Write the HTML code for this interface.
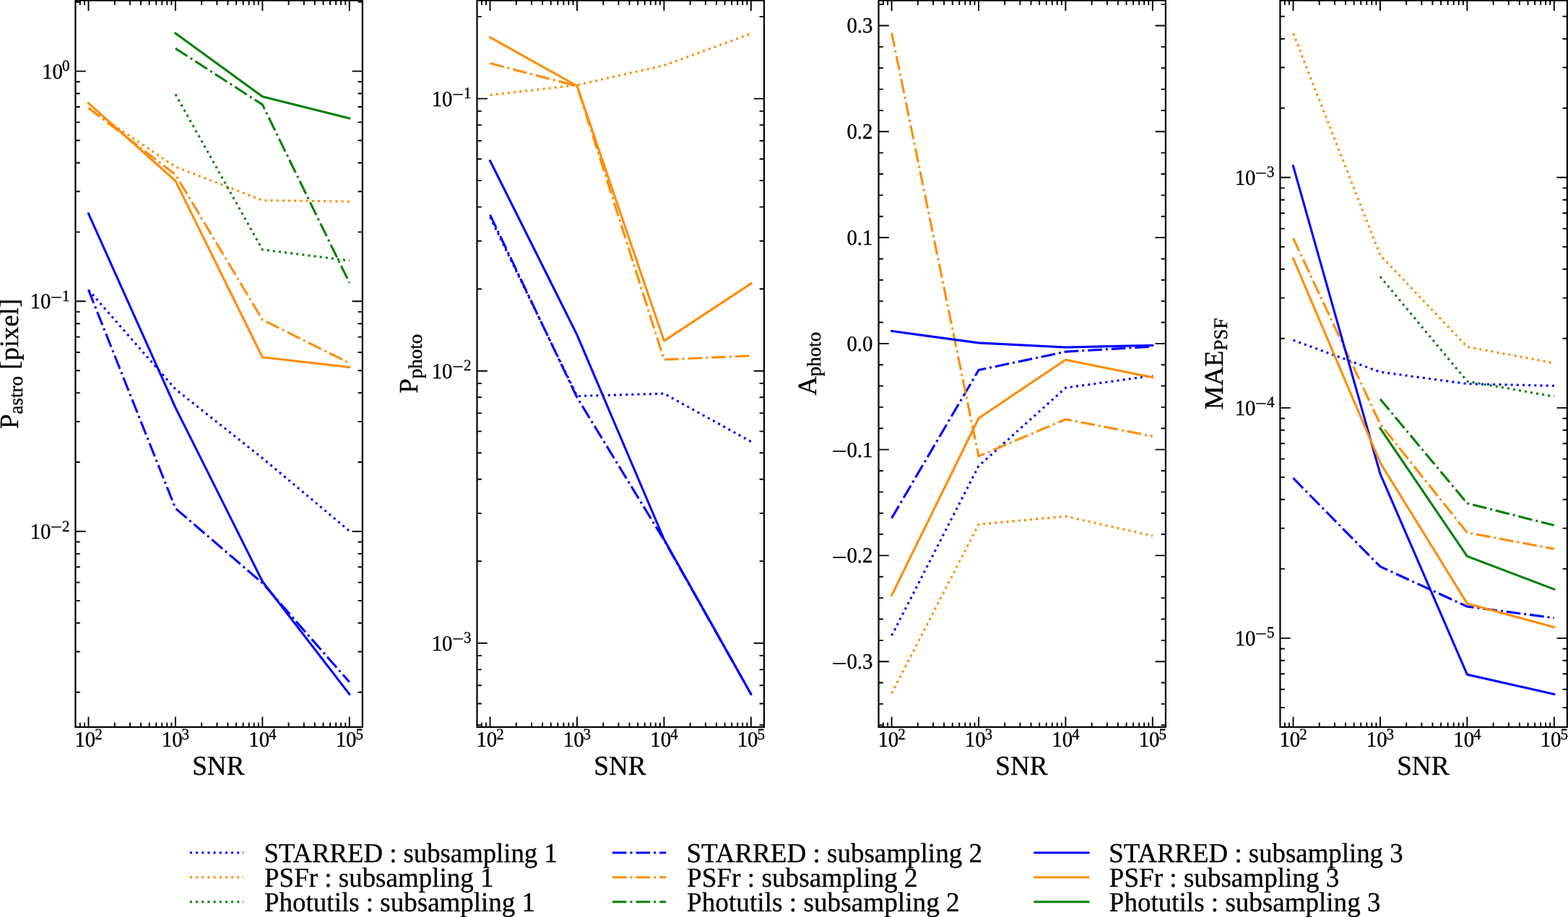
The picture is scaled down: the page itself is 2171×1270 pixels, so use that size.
<!DOCTYPE html>
<html><head><meta charset="utf-8"><title>SNR comparison</title>
<style>html,body{margin:0;padding:0;background:#fff;}svg{display:block;}text{font-family:'Liberation Serif', 'Times New Roman', serif;fill:#000;text-rendering:geometricPrecision;stroke:#000;stroke-width:0.35px;stroke-linejoin:round;}</style>
</head><body>
<svg width="2171" height="1270" viewBox="0 0 2171 1270">
<rect width="2171" height="1270" fill="#fff"/>
<clipPath id="c0"><rect x="104.45" y="0.6" width="397.4" height="1006.35"/></clipPath>
<g clip-path="url(#c0)">
<path d="M122.51,401.5 L242.94,539 L363.36,634.5 L483.79,735.4" stroke="#0000ff" stroke-width="3.08" stroke-dasharray="3.08,5.08" stroke-linecap="butt" stroke-linejoin="round" fill="none"/>
<path d="M122.51,149.8 L242.94,231 L363.36,277.5 L483.79,279.1" stroke="#ff8c00" stroke-width="3.08" stroke-dasharray="3.08,5.08" stroke-linecap="butt" stroke-linejoin="round" fill="none"/>
<path d="M242.94,130.6 L363.36,345.7 L483.79,361" stroke="#008000" stroke-width="3.08" stroke-dasharray="3.08,5.08" stroke-linecap="butt" stroke-linejoin="round" fill="none"/>
<path d="M122.51,401.5 L242.94,704 L363.36,807.5 L483.79,944.6" stroke="#0000ff" stroke-width="3.08" stroke-dasharray="19.71,4.93,3.08,4.93" stroke-linecap="butt" stroke-linejoin="round" fill="none"/>
<path d="M122.51,149.6 L242.94,241.8 L363.36,442.9 L483.79,502.8" stroke="#ff8c00" stroke-width="3.08" stroke-dasharray="19.71,4.93,3.08,4.93" stroke-linecap="butt" stroke-linejoin="round" fill="none"/>
<path d="M242.94,67.1 L363.36,144.9 L483.79,391.7" stroke="#008000" stroke-width="3.08" stroke-dasharray="19.71,4.93,3.08,4.93" stroke-linecap="butt" stroke-linejoin="round" fill="none"/>
<path d="M122.51,295.9 L242.94,564.5 L363.36,805.2 L483.79,961.4" stroke="#0000ff" stroke-width="3.08" stroke-linecap="square" stroke-linejoin="round" fill="none"/>
<path d="M122.51,143 L242.94,250.5 L363.36,494.8 L483.79,508.5" stroke="#ff8c00" stroke-width="3.08" stroke-linecap="square" stroke-linejoin="round" fill="none"/>
<path d="M242.94,46.1 L363.36,133.7 L483.79,163.8" stroke="#008000" stroke-width="3.08" stroke-linecap="square" stroke-linejoin="round" fill="none"/>
</g>
<path d="M110.84,1006.95v-6.3M110.84,0.6v6.3M117,1006.95v-6.3M117,0.6v6.3M122.51,1006.95v-14.3M122.51,0.6v14.3M158.76,1006.95v-6.3M158.76,0.6v6.3M179.97,1006.95v-6.3M179.97,0.6v6.3M195.02,1006.95v-6.3M195.02,0.6v6.3M206.69,1006.95v-6.3M206.69,0.6v6.3M216.22,1006.95v-6.3M216.22,0.6v6.3M224.28,1006.95v-6.3M224.28,0.6v6.3M231.27,1006.95v-6.3M231.27,0.6v6.3M237.43,1006.95v-6.3M237.43,0.6v6.3M242.94,1006.95v-14.3M242.94,0.6v14.3M279.19,1006.95v-6.3M279.19,0.6v6.3M300.39,1006.95v-6.3M300.39,0.6v6.3M315.44,1006.95v-6.3M315.44,0.6v6.3M327.11,1006.95v-6.3M327.11,0.6v6.3M336.65,1006.95v-6.3M336.65,0.6v6.3M344.71,1006.95v-6.3M344.71,0.6v6.3M351.69,1006.95v-6.3M351.69,0.6v6.3M357.85,1006.95v-6.3M357.85,0.6v6.3M363.36,1006.95v-14.3M363.36,0.6v14.3M399.61,1006.95v-6.3M399.61,0.6v6.3M420.82,1006.95v-6.3M420.82,0.6v6.3M435.86,1006.95v-6.3M435.86,0.6v6.3M447.54,1006.95v-6.3M447.54,0.6v6.3M457.07,1006.95v-6.3M457.07,0.6v6.3M465.13,1006.95v-6.3M465.13,0.6v6.3M472.12,1006.95v-6.3M472.12,0.6v6.3M478.28,1006.95v-6.3M478.28,0.6v6.3M483.79,1006.95v-14.3M483.79,0.6v14.3M104.45,958.68h6.3M501.85,958.68h-6.3M104.45,902.57h6.3M501.85,902.57h-6.3M104.45,862.75h6.3M501.85,862.75h-6.3M104.45,831.87h6.3M501.85,831.87h-6.3M104.45,806.64h6.3M501.85,806.64h-6.3M104.45,785.31h6.3M501.85,785.31h-6.3M104.45,766.83h6.3M501.85,766.83h-6.3M104.45,750.53h6.3M501.85,750.53h-6.3M104.45,735.95h14.3M501.85,735.95h-14.3M104.45,640.03h6.3M501.85,640.03h-6.3M104.45,583.92h6.3M501.85,583.92h-6.3M104.45,544.1h6.3M501.85,544.1h-6.3M104.45,513.22h6.3M501.85,513.22h-6.3M104.45,487.99h6.3M501.85,487.99h-6.3M104.45,466.66h6.3M501.85,466.66h-6.3M104.45,448.18h6.3M501.85,448.18h-6.3M104.45,431.88h6.3M501.85,431.88h-6.3M104.45,417.3h14.3M501.85,417.3h-14.3M104.45,321.38h6.3M501.85,321.38h-6.3M104.45,265.27h6.3M501.85,265.27h-6.3M104.45,225.45h6.3M501.85,225.45h-6.3M104.45,194.57h6.3M501.85,194.57h-6.3M104.45,169.34h6.3M501.85,169.34h-6.3M104.45,148.01h6.3M501.85,148.01h-6.3M104.45,129.53h6.3M501.85,129.53h-6.3M104.45,113.23h6.3M501.85,113.23h-6.3M104.45,98.65h14.3M501.85,98.65h-14.3M104.45,2.73h6.3M501.85,2.73h-6.3" stroke="#000" stroke-width="1.9" fill="none"/>
<rect x="104.45" y="0.6" width="397.4" height="1006.35" stroke="#000" stroke-width="2.2" fill="none" stroke-linejoin="miter"/>
<text transform="translate(103.39,1033.9) scale(0.955,1)" font-size="30.2">10</text>
<text transform="translate(131.13,1023.55) scale(0.955,1)" font-size="22.0">2</text>
<text transform="translate(223.81,1033.9) scale(0.955,1)" font-size="30.2">10</text>
<text transform="translate(251.56,1023.55) scale(0.955,1)" font-size="22.0">3</text>
<text transform="translate(344.24,1033.9) scale(0.955,1)" font-size="30.2">10</text>
<text transform="translate(371.98,1023.55) scale(0.955,1)" font-size="22.0">4</text>
<text transform="translate(464.66,1033.9) scale(0.955,1)" font-size="30.2">10</text>
<text transform="translate(492.4,1023.55) scale(0.955,1)" font-size="22.0">5</text>
<text transform="translate(41.65,745.85) scale(0.955,1)" font-size="30.2">10</text>
<text transform="translate(70.09,737.3) scale(1.280,1)" font-size="22.0">−</text>
<text transform="translate(85.9,735.5) scale(0.955,1)" font-size="22.0">2</text>
<text transform="translate(41.65,427.2) scale(0.955,1)" font-size="30.2">10</text>
<text transform="translate(70.09,418.65) scale(1.280,1)" font-size="22.0">−</text>
<text transform="translate(85.9,416.85) scale(0.955,1)" font-size="22.0">1</text>
<text transform="translate(58.15,108.55) scale(0.955,1)" font-size="30.2">10</text>
<text transform="translate(85.9,98.2) scale(0.955,1)" font-size="22.0">0</text>
<clipPath id="c1"><rect x="660.5" y="0.6" width="397.4" height="1006.35"/></clipPath>
<g clip-path="url(#c1)">
<path d="M678.56,300.8 L798.99,548.6 L919.41,545.1 L1039.84,611.6" stroke="#0000ff" stroke-width="3.08" stroke-dasharray="3.08,5.08" stroke-linecap="butt" stroke-linejoin="round" fill="none"/>
<path d="M678.56,131.6 L798.99,117.8 L919.41,90.6 L1039.84,46.6" stroke="#ff8c00" stroke-width="3.08" stroke-dasharray="3.08,5.08" stroke-linecap="butt" stroke-linejoin="round" fill="none"/>
<path d="M678.56,297.5 L798.99,550.5 L919.41,748 L1039.84,961.4" stroke="#0000ff" stroke-width="3.08" stroke-dasharray="19.71,4.93,3.08,4.93" stroke-linecap="butt" stroke-linejoin="round" fill="none"/>
<path d="M678.56,87.6 L798.99,119.3 L919.41,498 L1039.84,492.7" stroke="#ff8c00" stroke-width="3.08" stroke-dasharray="19.71,4.93,3.08,4.93" stroke-linecap="butt" stroke-linejoin="round" fill="none"/>
<path d="M678.56,222.7 L798.99,463.9 L919.41,747 L1039.84,961.4" stroke="#0000ff" stroke-width="3.08" stroke-linecap="square" stroke-linejoin="round" fill="none"/>
<path d="M678.56,51.7 L798.99,119 L919.41,472.1 L1039.84,392.7" stroke="#ff8c00" stroke-width="3.08" stroke-linecap="square" stroke-linejoin="round" fill="none"/>
</g>
<path d="M666.89,1006.95v-6.3M666.89,0.6v6.3M673.05,1006.95v-6.3M673.05,0.6v6.3M678.56,1006.95v-14.3M678.56,0.6v14.3M714.81,1006.95v-6.3M714.81,0.6v6.3M736.02,1006.95v-6.3M736.02,0.6v6.3M751.07,1006.95v-6.3M751.07,0.6v6.3M762.74,1006.95v-6.3M762.74,0.6v6.3M772.27,1006.95v-6.3M772.27,0.6v6.3M780.33,1006.95v-6.3M780.33,0.6v6.3M787.32,1006.95v-6.3M787.32,0.6v6.3M793.48,1006.95v-6.3M793.48,0.6v6.3M798.99,1006.95v-14.3M798.99,0.6v14.3M835.24,1006.95v-6.3M835.24,0.6v6.3M856.44,1006.95v-6.3M856.44,0.6v6.3M871.49,1006.95v-6.3M871.49,0.6v6.3M883.16,1006.95v-6.3M883.16,0.6v6.3M892.7,1006.95v-6.3M892.7,0.6v6.3M900.76,1006.95v-6.3M900.76,0.6v6.3M907.74,1006.95v-6.3M907.74,0.6v6.3M913.9,1006.95v-6.3M913.9,0.6v6.3M919.41,1006.95v-14.3M919.41,0.6v14.3M955.66,1006.95v-6.3M955.66,0.6v6.3M976.87,1006.95v-6.3M976.87,0.6v6.3M991.91,1006.95v-6.3M991.91,0.6v6.3M1003.59,1006.95v-6.3M1003.59,0.6v6.3M1013.12,1006.95v-6.3M1013.12,0.6v6.3M1021.18,1006.95v-6.3M1021.18,0.6v6.3M1028.17,1006.95v-6.3M1028.17,0.6v6.3M1034.33,1006.95v-6.3M1034.33,0.6v6.3M1039.84,1006.95v-14.3M1039.84,0.6v14.3M660.5,1004.32h6.3M1057.9,1004.32h-6.3M660.5,974.46h6.3M1057.9,974.46h-6.3M660.5,949.21h6.3M1057.9,949.21h-6.3M660.5,927.34h6.3M1057.9,927.34h-6.3M660.5,908.06h6.3M1057.9,908.06h-6.3M660.5,890.8h14.3M1057.9,890.8h-14.3M660.5,777.28h6.3M1057.9,777.28h-6.3M660.5,710.88h6.3M1057.9,710.88h-6.3M660.5,663.76h6.3M1057.9,663.76h-6.3M660.5,627.22h6.3M1057.9,627.22h-6.3M660.5,597.36h6.3M1057.9,597.36h-6.3M660.5,572.11h6.3M1057.9,572.11h-6.3M660.5,550.24h6.3M1057.9,550.24h-6.3M660.5,530.96h6.3M1057.9,530.96h-6.3M660.5,513.7h14.3M1057.9,513.7h-14.3M660.5,400.18h6.3M1057.9,400.18h-6.3M660.5,333.78h6.3M1057.9,333.78h-6.3M660.5,286.66h6.3M1057.9,286.66h-6.3M660.5,250.12h6.3M1057.9,250.12h-6.3M660.5,220.26h6.3M1057.9,220.26h-6.3M660.5,195.01h6.3M1057.9,195.01h-6.3M660.5,173.14h6.3M1057.9,173.14h-6.3M660.5,153.86h6.3M1057.9,153.86h-6.3M660.5,136.6h14.3M1057.9,136.6h-14.3M660.5,23.08h6.3M1057.9,23.08h-6.3" stroke="#000" stroke-width="1.9" fill="none"/>
<rect x="660.5" y="0.6" width="397.4" height="1006.35" stroke="#000" stroke-width="2.2" fill="none" stroke-linejoin="miter"/>
<text transform="translate(659.44,1033.9) scale(0.955,1)" font-size="30.2">10</text>
<text transform="translate(687.18,1023.55) scale(0.955,1)" font-size="22.0">2</text>
<text transform="translate(779.86,1033.9) scale(0.955,1)" font-size="30.2">10</text>
<text transform="translate(807.61,1023.55) scale(0.955,1)" font-size="22.0">3</text>
<text transform="translate(900.29,1033.9) scale(0.955,1)" font-size="30.2">10</text>
<text transform="translate(928.03,1023.55) scale(0.955,1)" font-size="22.0">4</text>
<text transform="translate(1020.71,1033.9) scale(0.955,1)" font-size="30.2">10</text>
<text transform="translate(1048.45,1023.55) scale(0.955,1)" font-size="22.0">5</text>
<text transform="translate(597.7,900.7) scale(0.955,1)" font-size="30.2">10</text>
<text transform="translate(626.14,892.15) scale(1.280,1)" font-size="22.0">−</text>
<text transform="translate(641.95,890.35) scale(0.955,1)" font-size="22.0">3</text>
<text transform="translate(597.7,523.6) scale(0.955,1)" font-size="30.2">10</text>
<text transform="translate(626.14,515.05) scale(1.280,1)" font-size="22.0">−</text>
<text transform="translate(641.95,513.25) scale(0.955,1)" font-size="22.0">2</text>
<text transform="translate(597.7,146.5) scale(0.955,1)" font-size="30.2">10</text>
<text transform="translate(626.14,137.95) scale(1.280,1)" font-size="22.0">−</text>
<text transform="translate(641.95,136.15) scale(0.955,1)" font-size="22.0">1</text>
<clipPath id="c2"><rect x="1216.5" y="0.6" width="397.4" height="1006.35"/></clipPath>
<g clip-path="url(#c2)">
<path d="M1234.56,880.3 L1354.99,645.4 L1475.41,537.1 L1595.84,520.3" stroke="#0000ff" stroke-width="3.08" stroke-dasharray="3.08,5.08" stroke-linecap="butt" stroke-linejoin="round" fill="none"/>
<path d="M1234.56,960.3 L1354.99,726.2 L1475.41,715.1 L1595.84,742.1" stroke="#ff8c00" stroke-width="3.08" stroke-dasharray="3.08,5.08" stroke-linecap="butt" stroke-linejoin="round" fill="none"/>
<path d="M1234.56,717.6 L1354.99,512.5 L1475.41,487.1 L1595.84,480" stroke="#0000ff" stroke-width="3.08" stroke-dasharray="19.71,4.93,3.08,4.93" stroke-linecap="butt" stroke-linejoin="round" fill="none"/>
<path d="M1234.56,45.6 L1354.99,631.9 L1475.41,580.7 L1595.84,604.2" stroke="#ff8c00" stroke-width="3.08" stroke-dasharray="19.71,4.93,3.08,4.93" stroke-linecap="butt" stroke-linejoin="round" fill="none"/>
<path d="M1234.56,458.5 L1354.99,474.9 L1475.41,481 L1595.84,478.3" stroke="#0000ff" stroke-width="3.08" stroke-linecap="square" stroke-linejoin="round" fill="none"/>
<path d="M1234.56,824.6 L1354.99,579.3 L1475.41,498.2 L1595.84,522.8" stroke="#ff8c00" stroke-width="3.08" stroke-linecap="square" stroke-linejoin="round" fill="none"/>
</g>
<path d="M1222.89,1006.95v-6.3M1222.89,0.6v6.3M1229.05,1006.95v-6.3M1229.05,0.6v6.3M1234.56,1006.95v-14.3M1234.56,0.6v14.3M1270.81,1006.95v-6.3M1270.81,0.6v6.3M1292.02,1006.95v-6.3M1292.02,0.6v6.3M1307.07,1006.95v-6.3M1307.07,0.6v6.3M1318.74,1006.95v-6.3M1318.74,0.6v6.3M1328.27,1006.95v-6.3M1328.27,0.6v6.3M1336.33,1006.95v-6.3M1336.33,0.6v6.3M1343.32,1006.95v-6.3M1343.32,0.6v6.3M1349.48,1006.95v-6.3M1349.48,0.6v6.3M1354.99,1006.95v-14.3M1354.99,0.6v14.3M1391.24,1006.95v-6.3M1391.24,0.6v6.3M1412.44,1006.95v-6.3M1412.44,0.6v6.3M1427.49,1006.95v-6.3M1427.49,0.6v6.3M1439.16,1006.95v-6.3M1439.16,0.6v6.3M1448.7,1006.95v-6.3M1448.7,0.6v6.3M1456.76,1006.95v-6.3M1456.76,0.6v6.3M1463.74,1006.95v-6.3M1463.74,0.6v6.3M1469.9,1006.95v-6.3M1469.9,0.6v6.3M1475.41,1006.95v-14.3M1475.41,0.6v14.3M1511.66,1006.95v-6.3M1511.66,0.6v6.3M1532.87,1006.95v-6.3M1532.87,0.6v6.3M1547.91,1006.95v-6.3M1547.91,0.6v6.3M1559.59,1006.95v-6.3M1559.59,0.6v6.3M1569.12,1006.95v-6.3M1569.12,0.6v6.3M1577.18,1006.95v-6.3M1577.18,0.6v6.3M1584.17,1006.95v-6.3M1584.17,0.6v6.3M1590.33,1006.95v-6.3M1590.33,0.6v6.3M1595.84,1006.95v-14.3M1595.84,0.6v14.3M1216.5,1004.26h6.3M1613.9,1004.26h-6.3M1216.5,974.9h6.3M1613.9,974.9h-6.3M1216.5,945.55h6.3M1613.9,945.55h-6.3M1216.5,916.19h14.3M1613.9,916.19h-14.3M1216.5,886.83h6.3M1613.9,886.83h-6.3M1216.5,857.48h6.3M1613.9,857.48h-6.3M1216.5,828.12h6.3M1613.9,828.12h-6.3M1216.5,798.77h6.3M1613.9,798.77h-6.3M1216.5,769.41h14.3M1613.9,769.41h-14.3M1216.5,740.05h6.3M1613.9,740.05h-6.3M1216.5,710.7h6.3M1613.9,710.7h-6.3M1216.5,681.34h6.3M1613.9,681.34h-6.3M1216.5,651.99h6.3M1613.9,651.99h-6.3M1216.5,622.63h14.3M1613.9,622.63h-14.3M1216.5,593.27h6.3M1613.9,593.27h-6.3M1216.5,563.92h6.3M1613.9,563.92h-6.3M1216.5,534.56h6.3M1613.9,534.56h-6.3M1216.5,505.21h6.3M1613.9,505.21h-6.3M1216.5,475.85h14.3M1613.9,475.85h-14.3M1216.5,446.49h6.3M1613.9,446.49h-6.3M1216.5,417.14h6.3M1613.9,417.14h-6.3M1216.5,387.78h6.3M1613.9,387.78h-6.3M1216.5,358.43h6.3M1613.9,358.43h-6.3M1216.5,329.07h14.3M1613.9,329.07h-14.3M1216.5,299.71h6.3M1613.9,299.71h-6.3M1216.5,270.36h6.3M1613.9,270.36h-6.3M1216.5,241h6.3M1613.9,241h-6.3M1216.5,211.65h6.3M1613.9,211.65h-6.3M1216.5,182.29h14.3M1613.9,182.29h-14.3M1216.5,152.93h6.3M1613.9,152.93h-6.3M1216.5,123.58h6.3M1613.9,123.58h-6.3M1216.5,94.22h6.3M1613.9,94.22h-6.3M1216.5,64.87h6.3M1613.9,64.87h-6.3M1216.5,35.51h14.3M1613.9,35.51h-14.3M1216.5,6.15h6.3M1613.9,6.15h-6.3" stroke="#000" stroke-width="1.9" fill="none"/>
<rect x="1216.5" y="0.6" width="397.4" height="1006.35" stroke="#000" stroke-width="2.2" fill="none" stroke-linejoin="miter"/>
<text transform="translate(1215.44,1033.9) scale(0.955,1)" font-size="30.2">10</text>
<text transform="translate(1243.18,1023.55) scale(0.955,1)" font-size="22.0">2</text>
<text transform="translate(1335.86,1033.9) scale(0.955,1)" font-size="30.2">10</text>
<text transform="translate(1363.61,1023.55) scale(0.955,1)" font-size="22.0">3</text>
<text transform="translate(1456.29,1033.9) scale(0.955,1)" font-size="30.2">10</text>
<text transform="translate(1484.03,1023.55) scale(0.955,1)" font-size="22.0">4</text>
<text transform="translate(1576.71,1033.9) scale(0.955,1)" font-size="30.2">10</text>
<text transform="translate(1604.45,1023.55) scale(0.955,1)" font-size="22.0">5</text>
<text transform="translate(1208.45,926.09) scale(0.955,1)" font-size="30.2" text-anchor="end">0.3</text>
<text transform="translate(1151.65,928.59) scale(1.231,1)" font-size="30.2">−</text>
<text transform="translate(1208.45,779.31) scale(0.955,1)" font-size="30.2" text-anchor="end">0.2</text>
<text transform="translate(1151.65,781.81) scale(1.231,1)" font-size="30.2">−</text>
<text transform="translate(1208.45,632.53) scale(0.955,1)" font-size="30.2" text-anchor="end">0.1</text>
<text transform="translate(1151.65,635.03) scale(1.231,1)" font-size="30.2">−</text>
<text transform="translate(1208.45,485.75) scale(0.955,1)" font-size="30.2" text-anchor="end">0.0</text>
<text transform="translate(1208.45,338.97) scale(0.955,1)" font-size="30.2" text-anchor="end">0.1</text>
<text transform="translate(1208.45,192.19) scale(0.955,1)" font-size="30.2" text-anchor="end">0.2</text>
<text transform="translate(1208.45,45.41) scale(0.955,1)" font-size="30.2" text-anchor="end">0.3</text>
<clipPath id="c3"><rect x="1772.45" y="0.6" width="397.4" height="1006.35"/></clipPath>
<g clip-path="url(#c3)">
<path d="M1790.51,471.1 L1910.94,515.2 L2031.36,531.6 L2151.79,534.3" stroke="#0000ff" stroke-width="3.08" stroke-dasharray="3.08,5.08" stroke-linecap="butt" stroke-linejoin="round" fill="none"/>
<path d="M1790.51,46.2 L1910.94,353.4 L2031.36,480.3 L2151.79,502.9" stroke="#ff8c00" stroke-width="3.08" stroke-dasharray="3.08,5.08" stroke-linecap="butt" stroke-linejoin="round" fill="none"/>
<path d="M1910.94,383.1 L2031.36,528.1 L2151.79,549.2" stroke="#008000" stroke-width="3.08" stroke-dasharray="3.08,5.08" stroke-linecap="butt" stroke-linejoin="round" fill="none"/>
<path d="M1790.51,662.2 L1910.94,784.7 L2031.36,840 L2151.79,855.8" stroke="#0000ff" stroke-width="3.08" stroke-dasharray="19.71,4.93,3.08,4.93" stroke-linecap="butt" stroke-linejoin="round" fill="none"/>
<path d="M1790.51,329.9 L1910.94,587.3 L2031.36,737.6 L2151.79,760.2" stroke="#ff8c00" stroke-width="3.08" stroke-dasharray="19.71,4.93,3.08,4.93" stroke-linecap="butt" stroke-linejoin="round" fill="none"/>
<path d="M1910.94,552.7 L2031.36,697 L2151.79,727.6" stroke="#008000" stroke-width="3.08" stroke-dasharray="19.71,4.93,3.08,4.93" stroke-linecap="butt" stroke-linejoin="round" fill="none"/>
<path d="M1790.51,229.9 L1910.94,656.1 L2031.36,934.2 L2151.79,961.4" stroke="#0000ff" stroke-width="3.08" stroke-linecap="square" stroke-linejoin="round" fill="none"/>
<path d="M1790.51,357.9 L1910.94,640.7 L2031.36,835.9 L2151.79,868.7" stroke="#ff8c00" stroke-width="3.08" stroke-linecap="square" stroke-linejoin="round" fill="none"/>
<path d="M1910.94,593.2 L2031.36,770.4 L2151.79,816.1" stroke="#008000" stroke-width="3.08" stroke-linecap="square" stroke-linejoin="round" fill="none"/>
</g>
<path d="M1778.84,1006.95v-6.3M1778.84,0.6v6.3M1785,1006.95v-6.3M1785,0.6v6.3M1790.51,1006.95v-14.3M1790.51,0.6v14.3M1826.76,1006.95v-6.3M1826.76,0.6v6.3M1847.97,1006.95v-6.3M1847.97,0.6v6.3M1863.02,1006.95v-6.3M1863.02,0.6v6.3M1874.69,1006.95v-6.3M1874.69,0.6v6.3M1884.22,1006.95v-6.3M1884.22,0.6v6.3M1892.28,1006.95v-6.3M1892.28,0.6v6.3M1899.27,1006.95v-6.3M1899.27,0.6v6.3M1905.43,1006.95v-6.3M1905.43,0.6v6.3M1910.94,1006.95v-14.3M1910.94,0.6v14.3M1947.19,1006.95v-6.3M1947.19,0.6v6.3M1968.39,1006.95v-6.3M1968.39,0.6v6.3M1983.44,1006.95v-6.3M1983.44,0.6v6.3M1995.11,1006.95v-6.3M1995.11,0.6v6.3M2004.65,1006.95v-6.3M2004.65,0.6v6.3M2012.71,1006.95v-6.3M2012.71,0.6v6.3M2019.69,1006.95v-6.3M2019.69,0.6v6.3M2025.85,1006.95v-6.3M2025.85,0.6v6.3M2031.36,1006.95v-14.3M2031.36,0.6v14.3M2067.61,1006.95v-6.3M2067.61,0.6v6.3M2088.82,1006.95v-6.3M2088.82,0.6v6.3M2103.86,1006.95v-6.3M2103.86,0.6v6.3M2115.54,1006.95v-6.3M2115.54,0.6v6.3M2125.07,1006.95v-6.3M2125.07,0.6v6.3M2133.13,1006.95v-6.3M2133.13,0.6v6.3M2140.12,1006.95v-6.3M2140.12,0.6v6.3M2146.28,1006.95v-6.3M2146.28,0.6v6.3M2151.79,1006.95v-14.3M2151.79,0.6v14.3M1772.45,979.94h6.3M2169.85,979.94h-6.3M1772.45,954.68h6.3M2169.85,954.68h-6.3M1772.45,933.32h6.3M2169.85,933.32h-6.3M1772.45,914.82h6.3M2169.85,914.82h-6.3M1772.45,898.5h6.3M2169.85,898.5h-6.3M1772.45,883.9h14.3M2169.85,883.9h-14.3M1772.45,787.86h6.3M2169.85,787.86h-6.3M1772.45,731.67h6.3M2169.85,731.67h-6.3M1772.45,691.81h6.3M2169.85,691.81h-6.3M1772.45,660.89h6.3M2169.85,660.89h-6.3M1772.45,635.63h6.3M2169.85,635.63h-6.3M1772.45,614.27h6.3M2169.85,614.27h-6.3M1772.45,595.77h6.3M2169.85,595.77h-6.3M1772.45,579.45h6.3M2169.85,579.45h-6.3M1772.45,564.85h14.3M2169.85,564.85h-14.3M1772.45,468.81h6.3M2169.85,468.81h-6.3M1772.45,412.62h6.3M2169.85,412.62h-6.3M1772.45,372.76h6.3M2169.85,372.76h-6.3M1772.45,341.84h6.3M2169.85,341.84h-6.3M1772.45,316.58h6.3M2169.85,316.58h-6.3M1772.45,295.22h6.3M2169.85,295.22h-6.3M1772.45,276.72h6.3M2169.85,276.72h-6.3M1772.45,260.4h6.3M2169.85,260.4h-6.3M1772.45,245.8h14.3M2169.85,245.8h-14.3M1772.45,149.76h6.3M2169.85,149.76h-6.3M1772.45,93.57h6.3M2169.85,93.57h-6.3M1772.45,53.71h6.3M2169.85,53.71h-6.3M1772.45,22.79h6.3M2169.85,22.79h-6.3" stroke="#000" stroke-width="1.9" fill="none"/>
<rect x="1772.45" y="0.6" width="397.4" height="1006.35" stroke="#000" stroke-width="2.2" fill="none" stroke-linejoin="miter"/>
<text transform="translate(1771.39,1033.9) scale(0.955,1)" font-size="30.2">10</text>
<text transform="translate(1799.13,1023.55) scale(0.955,1)" font-size="22.0">2</text>
<text transform="translate(1891.81,1033.9) scale(0.955,1)" font-size="30.2">10</text>
<text transform="translate(1919.56,1023.55) scale(0.955,1)" font-size="22.0">3</text>
<text transform="translate(2012.24,1033.9) scale(0.955,1)" font-size="30.2">10</text>
<text transform="translate(2039.98,1023.55) scale(0.955,1)" font-size="22.0">4</text>
<text transform="translate(2132.66,1033.9) scale(0.955,1)" font-size="30.2">10</text>
<text transform="translate(2160.4,1023.55) scale(0.955,1)" font-size="22.0">5</text>
<text transform="translate(1709.65,893.8) scale(0.955,1)" font-size="30.2">10</text>
<text transform="translate(1738.09,885.25) scale(1.280,1)" font-size="22.0">−</text>
<text transform="translate(1753.89,883.45) scale(0.955,1)" font-size="22.0">5</text>
<text transform="translate(1709.65,574.75) scale(0.955,1)" font-size="30.2">10</text>
<text transform="translate(1738.09,566.2) scale(1.280,1)" font-size="22.0">−</text>
<text transform="translate(1753.89,564.4) scale(0.955,1)" font-size="22.0">4</text>
<text transform="translate(1709.65,255.7) scale(0.955,1)" font-size="30.2">10</text>
<text transform="translate(1738.09,247.15) scale(1.280,1)" font-size="22.0">−</text>
<text transform="translate(1753.89,245.35) scale(0.955,1)" font-size="22.0">3</text>
<text transform="translate(25,503.8) rotate(-90)" x="-90.12" y="0" font-size="36.8"><tspan>P</tspan><tspan font-size="27.0" dy="5.9">astro</tspan><tspan dy="-5.9">&#160;[pixel]</tspan></text>
<text transform="translate(578.1,503.8) rotate(-90)" x="-40.98" y="0" font-size="36.8"><tspan>P</tspan><tspan font-size="27.0" dy="5.9">photo</tspan></text>
<text transform="translate(1130.3,503.8) rotate(-90)" x="-44.04" y="0" font-size="36.8"><tspan>A</tspan><tspan font-size="27.0" dy="5.9">photo</tspan></text>
<text transform="translate(1692.8,503.8) rotate(-90)" x="-63.41" y="0" font-size="36.8"><tspan>MAE</tspan><tspan font-size="27.0" dy="5.9">PSF</tspan></text>
<path d="M262.9,1181H337.2" stroke="#0000ff" stroke-width="3.08" stroke-dasharray="3.08,5.08" stroke-linecap="butt" stroke-linejoin="round" fill="none"/>
<text x="365.56" y="1194" font-size="38.0" textLength="406.23" lengthAdjust="spacingAndGlyphs" xml:space="preserve">STARRED : subsampling 1</text>
<path d="M262.9,1215H337.2" stroke="#ff8c00" stroke-width="3.08" stroke-dasharray="3.08,5.08" stroke-linecap="butt" stroke-linejoin="round" fill="none"/>
<text x="366.03" y="1228" font-size="38.0" textLength="317.39" lengthAdjust="spacingAndGlyphs" xml:space="preserve">PSFr : subsampling 1</text>
<path d="M262.9,1249H337.2" stroke="#008000" stroke-width="3.08" stroke-dasharray="3.08,5.08" stroke-linecap="butt" stroke-linejoin="round" fill="none"/>
<text x="366.03" y="1262" font-size="38.0" textLength="375.09" lengthAdjust="spacingAndGlyphs" xml:space="preserve">Photutils : subsampling 1</text>
<path d="M847.8,1181H922.1" stroke="#0000ff" stroke-width="3.08" stroke-dasharray="19.71,4.93,3.08,4.93" stroke-linecap="butt" stroke-linejoin="round" fill="none"/>
<text x="950.44" y="1194" font-size="38.0" textLength="409.49" lengthAdjust="spacingAndGlyphs" xml:space="preserve">STARRED : subsampling 2</text>
<path d="M847.8,1215H922.1" stroke="#ff8c00" stroke-width="3.08" stroke-dasharray="19.71,4.93,3.08,4.93" stroke-linecap="butt" stroke-linejoin="round" fill="none"/>
<text x="950.93" y="1228" font-size="38.0" textLength="319.73" lengthAdjust="spacingAndGlyphs" xml:space="preserve">PSFr : subsampling 2</text>
<path d="M847.8,1249H922.1" stroke="#008000" stroke-width="3.08" stroke-dasharray="19.71,4.93,3.08,4.93" stroke-linecap="butt" stroke-linejoin="round" fill="none"/>
<text x="950.93" y="1262" font-size="38.0" textLength="377.83" lengthAdjust="spacingAndGlyphs" xml:space="preserve">Photutils : subsampling 2</text>
<path d="M1432.7,1181H1507" stroke="#0000ff" stroke-width="3.08" stroke-linecap="square" stroke-linejoin="round" fill="none"/>
<text x="1535.35" y="1194" font-size="38.0" textLength="407.27" lengthAdjust="spacingAndGlyphs" xml:space="preserve">STARRED : subsampling 3</text>
<path d="M1432.7,1215H1507" stroke="#ff8c00" stroke-width="3.08" stroke-linecap="square" stroke-linejoin="round" fill="none"/>
<text x="1535.83" y="1228" font-size="38.0" textLength="318.42" lengthAdjust="spacingAndGlyphs" xml:space="preserve">PSFr : subsampling 3</text>
<path d="M1432.7,1249H1507" stroke="#008000" stroke-width="3.08" stroke-linecap="square" stroke-linejoin="round" fill="none"/>
<text x="1535.83" y="1262" font-size="38.0" textLength="375.61" lengthAdjust="spacingAndGlyphs" xml:space="preserve">Photutils : subsampling 3</text>
<text x="266.22" y="1073.2" font-size="38.0" textLength="72.24" lengthAdjust="spacingAndGlyphs">SNR</text>
<text x="822.27" y="1073.2" font-size="38.0" textLength="72.24" lengthAdjust="spacingAndGlyphs">SNR</text>
<text x="1378.27" y="1073.2" font-size="38.0" textLength="72.24" lengthAdjust="spacingAndGlyphs">SNR</text>
<text x="1934.22" y="1073.2" font-size="38.0" textLength="72.24" lengthAdjust="spacingAndGlyphs">SNR</text>
</svg>
</body></html>
